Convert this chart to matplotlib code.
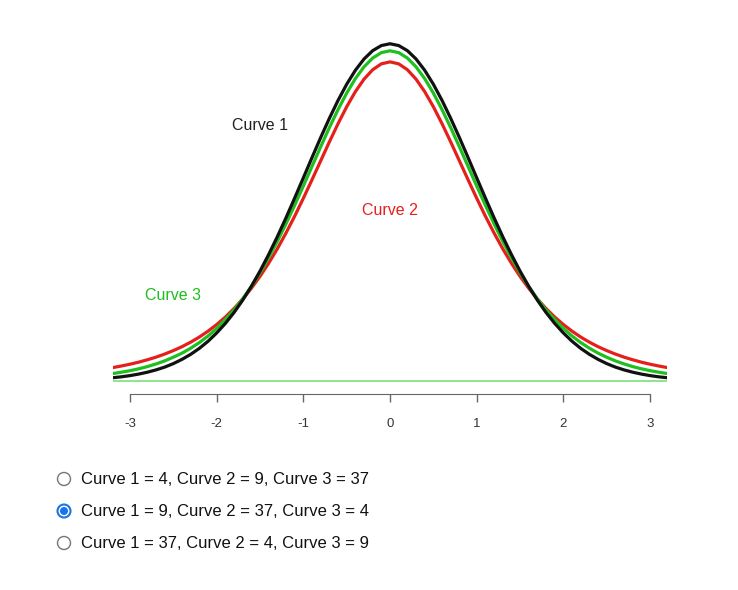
import numpy as np
import matplotlib.pyplot as plt
from matplotlib.patches import Circle

plt.rcParams['font.family'] = ['Liberation Sans', 'DejaVu Sans']

# x positions (-3.2 .. 3.2 in steps of 0.1) and densities
x = np.linspace(-3.2, 3.2, 65)
curve1 = [0.0038, 0.0049, 0.0063, 0.0081, 0.0103, 0.0130, 0.0163, 0.0204, 0.0254,
          0.0313, 0.0383, 0.0466, 0.0564, 0.0676, 0.0804, 0.0949, 0.1112, 0.1291,
          0.1486, 0.1696, 0.1918, 0.2150, 0.2387, 0.2626, 0.2861, 0.3086, 0.3297,
          0.3487, 0.3651, 0.3784, 0.3882, 0.3942,
          0.3963,
          0.3942, 0.3882, 0.3784, 0.3651, 0.3487, 0.3297, 0.3086, 0.2861, 0.2626,
          0.2387, 0.2150, 0.1918, 0.1696, 0.1486, 0.1291, 0.1112, 0.0949, 0.0804,
          0.0676, 0.0564, 0.0466, 0.0383, 0.0313, 0.0254, 0.0204, 0.0163, 0.0130,
          0.0103, 0.0081, 0.0063, 0.0049, 0.0038]
curve2 = [0.0157, 0.0176, 0.0197, 0.0221, 0.0249, 0.0280, 0.0316, 0.0357, 0.0403,
          0.0456, 0.0516, 0.0585, 0.0663, 0.0751, 0.0851, 0.0963, 0.1089, 0.1229,
          0.1384, 0.1554, 0.1739, 0.1937, 0.2147, 0.2365, 0.2587, 0.2809, 0.3023,
          0.3223, 0.3400, 0.3547, 0.3658, 0.3727,
          0.3750,
          0.3727, 0.3658, 0.3547, 0.3400, 0.3223, 0.3023, 0.2809, 0.2587, 0.2365,
          0.2147, 0.1937, 0.1739, 0.1554, 0.1384, 0.1229, 0.1089, 0.0963, 0.0851,
          0.0751, 0.0663, 0.0585, 0.0516, 0.0456, 0.0403, 0.0357, 0.0316, 0.0280,
          0.0249, 0.0221, 0.0197, 0.0176, 0.0157]
curve3 = [0.0087, 0.0103, 0.0121, 0.0143, 0.0169, 0.0200, 0.0236, 0.0279, 0.0327,
          0.0385, 0.0451, 0.0528, 0.0617, 0.0722, 0.0834, 0.0964, 0.1110, 0.1271,
          0.1449, 0.1641, 0.1847, 0.2065, 0.2291, 0.2522, 0.2752, 0.2977, 0.3189,
          0.3383, 0.3553, 0.3692, 0.3795, 0.3859,
          0.3880,
          0.3859, 0.3795, 0.3692, 0.3553, 0.3383, 0.3189, 0.2977, 0.2752, 0.2522,
          0.2291, 0.2065, 0.1847, 0.1641, 0.1449, 0.1271, 0.1110, 0.0964, 0.0834,
          0.0722, 0.0617, 0.0528, 0.0451, 0.0385, 0.0327, 0.0279, 0.0236, 0.0200,
          0.0169, 0.0143, 0.0121, 0.0103, 0.0087]
ticks = [-3, -2, -1, 0, 1, 2, 3]
options = ['Curve 1 = 4, Curve 2 = 9, Curve 3 = 37',
           'Curve 1 = 9, Curve 2 = 37, Curve 3 = 4',
           'Curve 1 = 37, Curve 2 = 4, Curve 3 = 9']
selected = 1

black, red, green = '#111111', '#e5201c', '#1fbf1f'

fig = plt.figure(figsize=(7.38, 5.90), dpi=100)
ax = fig.add_axes([0.1526, 0.3322, 0.7518, 0.617])

ax.axhline(0, color='#7be07b', lw=1.2)
for yv, col in [(curve2, red), (curve3, green), (curve1, black)]:
    ax.plot(x, yv, color=col, lw=2.3, solid_capstyle='butt', solid_joinstyle='round')

ax.text(-1.5, 0.30, 'Curve 1', color='#222222', fontsize=11.5, ha='center', va='center')
ax.text(0.0, 0.20, 'Curve 2', color=red, fontsize=11.5, ha='center', va='center')
ax.text(-2.5, 0.10, 'Curve 3', color=green, fontsize=11.5, ha='center', va='center')

ax.set_xlim(-3.2, 3.2)
ax.set_ylim(-0.0153, 0.4125)
for s in ['top', 'right', 'left']:
    ax.spines[s].set_visible(False)
ax.spines['bottom'].set_bounds(-3, 3)
ax.spines['bottom'].set_color('#666666')
ax.set_yticks([])
ax.set_xticks(ticks)
ax.set_xticklabels([str(t) for t in ticks])
ax.tick_params(axis='x', direction='out', length=6, width=1, color='#666666',
               pad=11, labelsize=9.5, labelcolor='#333333')

# radio-button answers below the chart
opt = fig.add_axes([0, 0, 1, 1], facecolor='none')
opt.set_xlim(0, 738)
opt.set_ylim(590, 0)
opt.axis('off')
for i, label in enumerate(options):
    yy = 479 + 32 * i
    if i == selected:
        opt.add_patch(Circle((64, yy), 6.5, facecolor='white', edgecolor='#1a73e8', lw=1.5))
        opt.add_patch(Circle((64, yy), 4.0, facecolor='#1a73e8', edgecolor='none'))
    else:
        opt.add_patch(Circle((64, yy), 6.5, facecolor='white', edgecolor='#767676', lw=1.0))
    opt.text(81, yy, label, fontsize=12, color='#111111', ha='left', va='center')

fig.savefig('out.png', dpi=100)
